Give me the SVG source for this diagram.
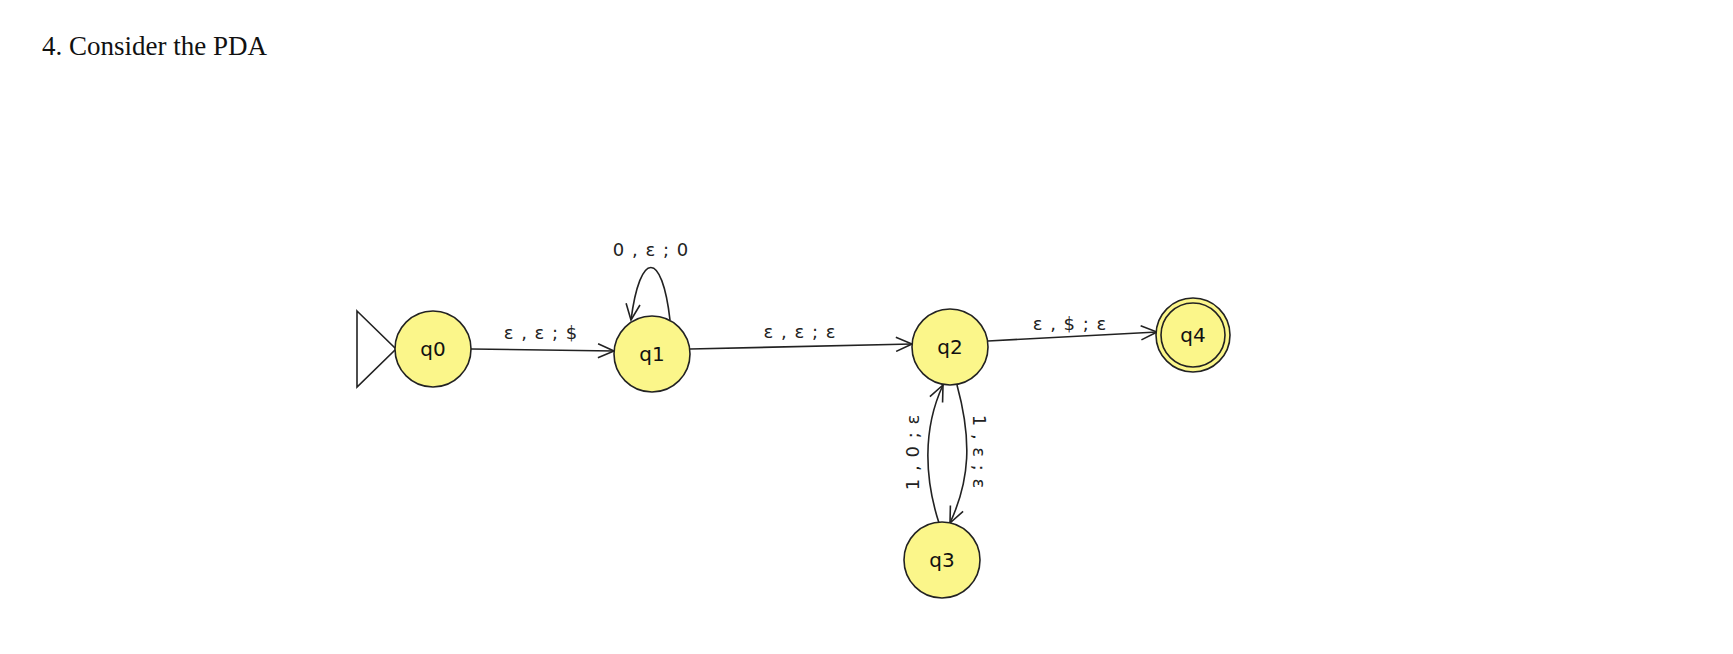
<svg xmlns="http://www.w3.org/2000/svg" width="1733" height="654" viewBox="0 0 1733 654">
<style>
.st{fill:#fbf68a;stroke:#222;stroke-width:1.6}
.nl{font-family:"DejaVu Sans",sans-serif;font-size:20px;text-anchor:middle;fill:#111}
.el{font-family:"DejaVu Sans",sans-serif;font-size:18px;text-anchor:middle;fill:#222;letter-spacing:1px}
.e{fill:none;stroke:#222;stroke-width:1.6;marker-end:url(#a)}
</style>
<defs><marker id="a" markerWidth="20" markerHeight="16" refX="17" refY="8" orient="auto" markerUnits="userSpaceOnUse"><path d="M1,1 L17,8 L1,15" fill="none" stroke="#222" stroke-width="1.6"/></marker></defs>
<rect width="1733" height="654" fill="#fff"/>
<text x="42" y="55" font-family="'Liberation Serif',serif" font-size="27" fill="#111">4.  Consider the PDA</text>
<g id="connectors">
<polygon points="357,311 396,349 357,387" fill="none" stroke="#222" stroke-width="1.6"/>
<path class="e" d="M471,349 L614,351"/>
<text class="el" x="541" y="339">ε , ε ; $</text>
<path class="e" d="M670,320 C662,250 640,250 631,320"/>
<text class="el" x="651" y="256">0 , ε ; 0</text>
<path class="e" d="M690,349 L912,344"/>
<text class="el" x="800" y="338">ε , ε ; ε</text>
<path class="e" d="M988,341 L1157,332"/>
<text class="el" x="1070" y="330">ε , $ ; ε</text>
<path class="e" d="M957,385 C972,440 970,480 950,523"/>
<text class="el" transform="translate(973,452) rotate(90)">1 , ε ; ε</text>
<path class="e" d="M939,523 C925,480 922,430 943,385"/>
<text class="el" transform="translate(919,452) rotate(-90)">1 , 0 ; ε</text>
</g>
<g id="q0"><circle class="st" cx="433" cy="349" r="38"/><text class="nl" x="433" y="356">q0</text></g>
<g id="q1"><circle class="st" cx="652" cy="354" r="38"/><text class="nl" x="652" y="361">q1</text></g>
<g id="q2"><circle class="st" cx="950" cy="347" r="38"/><text class="nl" x="950" y="354">q2</text></g>
<g id="q3"><circle class="st" cx="942" cy="560" r="38"/><text class="nl" x="942" y="567">q3</text></g>
<g id="q4"><circle class="st" cx="1193" cy="335" r="37"/><circle class="st" cx="1193" cy="335" r="32"/><text class="nl" x="1193" y="342">q4</text></g>
</svg>
